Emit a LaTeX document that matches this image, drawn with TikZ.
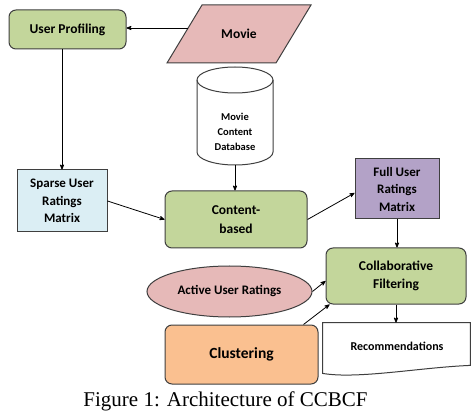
\documentclass[tikz,border=0pt]{standalone}
\usepackage{fontspec}
\setmainfont{Carlito}
\newfontfamily\captionfont{Liberation Serif}
\usetikzlibrary{shapes,arrows}

\definecolor{stepgreen}{HTML}{C3D69B}
\definecolor{moviepink}{HTML}{E6B9B8}
\definecolor{sparseblue}{HTML}{DBEEF4}
\definecolor{fullpurple}{HTML}{B3A2C7}
\definecolor{clusterorange}{HTML}{FAC090}
\definecolor{edgegray}{HTML}{3F3F3F}

\tikzset{
    process/.style = {rectangle,
        rounded corners = 7pt,
        draw = edgegray,
        line width = 1pt,
        fill = stepgreen,
        align = center,
        font = \bfseries\fontsize{13.5}{18.5}\selectfont},
    matrixbox/.style = {rectangle,
        draw = edgegray,
        line width = 1pt,
        align = center,
        font = \bfseries\fontsize{13}{17.5}\selectfont}
}

\begin{document}
\begin{tikzpicture}[->,>=stealth', x=1pt, y=-1pt, line width=0.8pt]

    \useasboundingbox (0,0) rectangle (474,414);

    \node[process,
          minimum width = 117pt,
          minimum height = 39pt] (userprof) at (67.5,29.5) {User Profiling};

    % parallelogram
    \draw[-, draw = edgegray, line width = 1pt, fill = moviepink]
        (202,5) -- (311,5) -- (276,63) -- (167,63) -- cycle;
    \node[font = \bfseries\fontsize{13.5}{16}\selectfont] (movie) at (239,34) {Movie};
    \coordinate (moviein) at (188,28);

    % cylinder
    \node[minimum width = 76pt,
          minimum height = 98pt] (moviedb) at (235,116) {};
    \draw[-, draw = edgegray, line width = 1pt, fill = white]
        (197,80) -- (197,152) arc[start angle=180, end angle=360, x radius=38pt, y radius=13pt]
        -- (273,80) arc[start angle=0, end angle=180, x radius=38pt, y radius=13pt] -- cycle;
    \draw[-, draw = edgegray, line width = 1pt]
        (197,80) arc[start angle=180, end angle=360, x radius=38pt, y radius=13pt];
    \node[align = center,
          font = \bfseries\fontsize{10.5}{15}\selectfont] (dblabel) at (235,132) {Movie\\Content\\Database};

    \node[matrixbox,
          fill = sparseblue,
          minimum width = 90pt,
          minimum height = 62pt] (sparse) at (62,201) {Sparse User\\Ratings\\Matrix};

    \node[process,
          minimum width = 142pt,
          minimum height = 57pt] (content) at (236,219.5) {Content-\\based};

    \node[matrixbox,
          fill = fullpurple,
          minimum width = 84pt,
          minimum height = 60pt] (full) at (397,189) {Full User\\Ratings\\Matrix};

    \node[process,
          minimum width = 140pt,
          minimum height = 56pt] (collab) at (396,276) {Collaborative\\Filtering};

    \node[ellipse,
          draw = edgegray,
          line width = 1pt,
          fill = moviepink,
          font = \bfseries\fontsize{13}{16}\selectfont,
          minimum width = 165pt,
          minimum height = 51pt] (active) at (229.5,291.5) {Active User Ratings};

    \node[process,
          fill = clusterorange,
          font = \bfseries\fontsize{15.5}{18}\selectfont,
          minimum width = 153pt,
          minimum height = 59pt] (cluster) at (241.5,354.5) {Clustering};

    \node[minimum width = 147pt,
          minimum height = 50pt] (rec) at (396.5,348) {};
    \draw[-, draw = edgegray, line width = 1pt, fill = white]
        (rec.north west) -- (rec.north east) -- ([yshift=8pt]rec.south east)
        .. controls ([xshift=-50pt,yshift=6pt]rec.south east) and ([xshift=35pt,yshift=-6pt]rec.south west) .. (rec.south west) -- cycle;
    \node[font = \bfseries\fontsize{12}{15}\selectfont] (reclabel) at (397,346) {Recommendations};

    % connectors
    \draw (moviein) -- (moviein -| userprof.east);
    \draw (userprof.south -| sparse.north) -- (sparse.north);
    \draw (moviedb.south) -- (moviedb.south |- content.north);
    \draw (sparse.east) -- (content.west);
    \draw (content.east) -- ([yshift=-4pt]full.west);
    \draw (full.south) -- (full.south |- collab.north);
    \draw (active.east) -- ([yshift=-5pt]collab.west);
    \draw ([xshift=-15pt]cluster.north east) -- ([xshift=4pt]collab.south west);
    \draw (collab.south) -- (collab.south |- rec.north);

    \node[font = \captionfont\fontsize{21}{25}\selectfont] (caption) at (225.5,401) {Figure 1: Architecture of CCBCF};

\end{tikzpicture}
\end{document}
